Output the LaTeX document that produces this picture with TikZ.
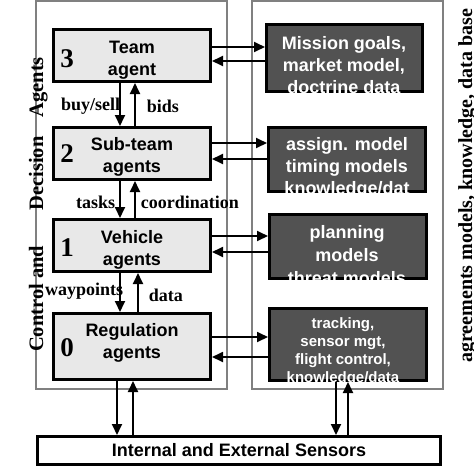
\documentclass[tikz,border=0pt]{standalone}
\usepackage{fontspec}
\setmainfont{Liberation Serif}
\setsansfont{Liberation Sans}
\usetikzlibrary{arrows.meta,positioning,calc}
\colorlet{agentfill}{black!9}
\colorlet{modelfill}{black!68}
\colorlet{frameedge}{black!50}

\begin{document}
\begin{tikzpicture}[
    x=1pt, y=-1pt,
    frame/.style={draw=frameedge, line width=1.6pt},
    agentbox/.style={draw, line width=3pt, fill=agentfill, inner sep=0pt,
                     minimum width=157pt},
    agenttxt/.style={font=\sffamily\bfseries\fontsize{18}{22}\selectfont,
                     align=center, inner sep=0pt},
    levelnum/.style={font=\bfseries\fontsize{27}{27}\selectfont, inner sep=0pt},
    modelbox/.style={draw, line width=3pt, fill=modelfill, inner sep=0pt,
                     minimum width=157pt},
    modeltxt/.style={font=\sffamily\bfseries\fontsize{18}{22}\selectfont,
                     text=white, align=center, inner sep=0pt},
    lab/.style={font=\bfseries\fontsize{18}{22}\selectfont, inner sep=0pt},
    vtext/.style={font=\bfseries\fontsize{20.5}{22}\selectfont, rotate=90,
                  anchor=base west, inner sep=0pt},
    arr/.style={-{Triangle[length=11pt,width=10pt]}, line width=1.8pt}
  ]
  \useasboundingbox (0,0) rectangle (474,467);
  \draw[frame] (36,1) rectangle (227,389);
  \draw[frame] (252,1) rectangle (443,389);

  \node[agentbox, minimum height=52pt] (team) at (132,55.5) {};
  \node[agentbox, minimum height=52pt] (subteam) at (132,153.5) {};
  \node[agentbox, minimum height=52pt] (vehicle) at (132,245.5) {};
  \node[agentbox, minimum height=66pt] (regul) at (132,346.5) {};
  \node[agenttxt] (teamtxt) at (132,60) {Team\\agent};
  \node[agenttxt] (subtxt) at (132,156.5) {Sub-team\\agents};
  \node[agenttxt] (vehtxt) at (132,250) {Vehicle\\agents};
  \node[agenttxt] (regtxt) at (132,342.5) {Regulation\\agents};
  \node[levelnum] (lvl3) at (67,59) {3};
  \node[levelnum] (lvl2) at (67,154) {2};
  \node[levelnum] (lvl1) at (67,247.5) {1};
  \node[levelnum] (lvl0) at (67,348) {0};

  \node[modelbox, minimum width=156pt, minimum height=67pt] (goals) at (344.5,58) {};
  \node[modelbox, minimum height=64pt] (assign) at (347,159.5) {};
  \node[modelbox, minimum height=64pt] (planning) at (348,246.5) {};
  \node[modelbox, minimum height=72pt] (tracking) at (348,344.5) {};
  \node[modeltxt] (goalstxt) at (344,65) {Mission goals,\\market model,\\doctrine data};
  \node[modeltxt] (assigntxt) at (347,168) {assign. model\\timing models\\knowledge/dat};
  \node[modeltxt, font=\sffamily\bfseries\fontsize{18}{23}\selectfont]
    (plantxt) at (347,255) {planning\\models\\threat models};
  \node[modeltxt, font=\sffamily\bfseries\fontsize{15}{18}\selectfont]
    (tracktxt) at (343,352) {tracking,\\sensor mgt,\\flight control,\\knowledge/data};

  \node[draw, line width=3pt, fill=white, inner sep=0pt, minimum width=403pt,
        minimum height=28pt, font=\sffamily\bfseries\fontsize{18}{22}\selectfont]
    (sensors) at (239,450.5) {Internal and External Sensors};

  \draw[arr] ([xshift=-12pt]team.south) -- node[lab, anchor=east, xshift=1pt, yshift=-1.5pt]
    {buy/sell} ([xshift=-12pt]subteam.north);
  \draw[arr] ([xshift=3pt]subteam.north) -- node[lab, anchor=west, xshift=11pt, yshift=-1.5pt]
    {bids} ([xshift=3pt]team.south);
  \draw[arr] ([xshift=-12pt]subteam.south) -- node[lab, anchor=east, xshift=-4pt, yshift=-2.5pt]
    {tasks} ([xshift=-12pt]vehicle.north);
  \draw[arr] ([xshift=3pt]vehicle.north) -- node[lab, anchor=west, xshift=5pt, yshift=-2.5pt]
    {coordination} ([xshift=3pt]subteam.south);
  \draw[arr] ([xshift=-12pt]vehicle.south) -- node[lab, anchor=east, xshift=4pt, yshift=1.5pt]
    {waypoints} ([xshift=-12pt]regul.north);
  \draw[arr] ([xshift=6pt]regul.north) -- node[lab, anchor=west, xshift=10pt, yshift=-2.5pt]
    {data} ([xshift=6pt]vehicle.south);

  \draw[arr] ([yshift=8.5pt]team.east) -- ([yshift=8.5pt]team.east -| goals.west);
  \draw[arr] ([yshift=-5.5pt]team.east -| goals.west) -- ([yshift=-5.5pt]team.east);
  \draw[arr] ([yshift=10.5pt]subteam.east) -- ([yshift=10.5pt]subteam.east -| assign.west);
  \draw[arr] ([yshift=-5.5pt]subteam.east -| assign.west) -- ([yshift=-5.5pt]subteam.east);
  \draw[arr] ([yshift=9.5pt]vehicle.east) -- ([yshift=9.5pt]vehicle.east -| planning.west);
  \draw[arr] ([yshift=-6.5pt]vehicle.east -| planning.west) -- ([yshift=-6.5pt]vehicle.east);
  \draw[arr] ([yshift=9.5pt]regul.east) -- ([yshift=9.5pt]regul.east -| tracking.west);
  \draw[arr] ([yshift=-10.5pt]regul.east -| tracking.west) -- ([yshift=-10.5pt]regul.east);

  \draw[arr] ([xshift=-15pt]regul.south) -- ([xshift=-15pt]regul.south |- sensors.north);
  \draw[arr] ([xshift=1pt]regul.south |- sensors.north) -- ([xshift=1pt]regul.south);
  \draw[arr] ([xshift=-12pt]tracking.south) -- ([xshift=-12pt]tracking.south |- sensors.north);
  \draw[arr] (tracking.south |- sensors.north) -- (tracking.south);

  \node[vtext] (sidelab) at (43,352)
    {Control and\hspace{30pt} Decision\hspace{14pt} Agents};
  \node[vtext, font=\bfseries\fontsize{20}{22}\selectfont] (sidenote) at (472,363)
    {agreements models, knowledge, data base};
\end{tikzpicture}
\end{document}
